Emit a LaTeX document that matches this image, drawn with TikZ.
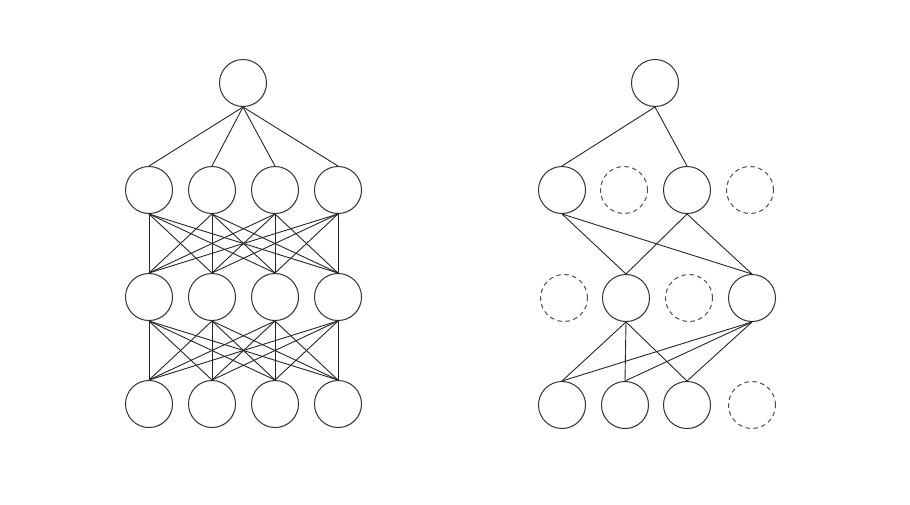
\documentclass[tikz,border=0pt]{standalone}
\usepackage{tikz}
\usetikzlibrary{shapes}
\usetikzlibrary{shadows}

\begin{document}
\begin{tikzpicture}[x = 1pt, y = -1pt,
  unit/.style = {circle, draw = black!80, fill = white, line width = 1pt,
    minimum size = 47pt, inner sep = 0pt,
    drop shadow = {shadow xshift = .8pt, shadow yshift = -.8pt, opacity = .2}},
  gone/.style = {circle, draw = black!70, dash pattern = on 4.5pt off 3.5pt,
    line width = 1pt, minimum size = 47pt, inner sep = 0pt},
  wire/.style = {draw = black!85, line width = .9pt}]
  \useasboundingbox (0, 0) rectangle (910, 504);
  % full network
  \node[unit] at (243, 83) (t) {};
  \foreach \i/\x in {1/149, 2/212, 3/275, 4/338}
  {
  \node[unit] at (\x, 190) (a\i) {};
  \node[unit] at (\x, 297) (b\i) {};
  \node[unit] at (\x, 404) (c\i) {};
  }
  \foreach \i in {1, ..., 4}
  {
  \draw[wire] (t.south) -- (a\i.north);
  \foreach \j in {1, ..., 4}
  {
  \draw[wire] (a\i.south) -- (b\j.north);
  \draw[wire] (b\i.south) -- (c\j.north);
  }
  }
  % thinned network
  \node[unit] at (655, 83) (T) {};
  \node[unit] at (562, 190) (A1) {};
  \node[gone] at (624, 190) (A2) {};
  \node[unit] at (687, 190) (A3) {};
  \node[gone] at (750, 190) (A4) {};
  \node[gone] at (564, 298) (B1) {};
  \node[unit] at (626, 298) (B2) {};
  \node[gone] at (689, 298) (B3) {};
  \node[unit] at (752, 298) (B4) {};
  \node[unit] at (562, 405) (C1) {};
  \node[unit] at (625, 405) (C2) {};
  \node[unit] at (687, 405) (C3) {};
  \node[gone] at (752, 405) (C4) {};
  \draw[wire] (T.south) -- (A1.north);
  \draw[wire] (T.south) -- (A3.north);
  \foreach \i in {1, 3}
  {
  \draw[wire] (A\i.south) -- (B2.north);
  \draw[wire] (A\i.south) -- (B4.north);
  }
  \foreach \i in {2, 4}
  {
  \draw[wire] (B\i.south) -- (C1.north);
  \draw[wire] (B\i.south) -- (C2.north);
  \draw[wire] (B\i.south) -- (C3.north);
  }
\end{tikzpicture}
\end{document}
